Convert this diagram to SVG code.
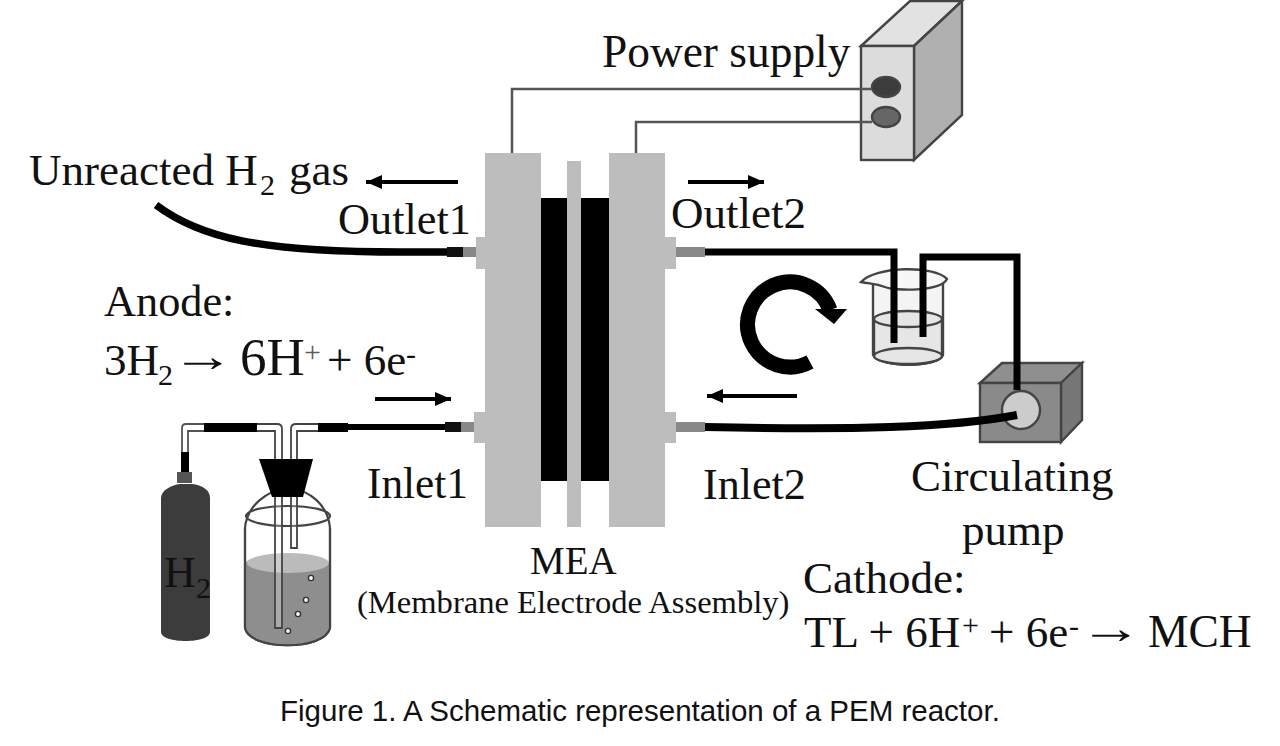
<svg xmlns="http://www.w3.org/2000/svg" width="1280" height="746" viewBox="0 0 1280 746">
<defs>
<marker id="ah" markerUnits="userSpaceOnUse" markerWidth="18" markerHeight="15" refX="16" refY="7" orient="auto"><path d="M0,0 L16,7 L0,14 L0,0 Z" fill="#000"/></marker>
</defs>
<style>
.s{font-family:"Liberation Serif","Times New Roman",serif;fill:#111}
.sub{font-size:30px}
.sup{font-size:30px}
.tube{fill:none;stroke:#000;stroke-width:7}
.thin{fill:none;stroke:#555;stroke-width:2.5}
.flow{fill:none;stroke:#000;stroke-width:4;marker-end:url(#ah)}
.g{fill:#bdbdbd}
.m{fill:#888}
.e{stroke:#444;stroke-width:2.4}
</style>
<rect width="1280" height="746" fill="#fff"/>
<g id="power-supply">
<path class="e" d="M861,46 L910,1 H962 L914,46 Z" fill="#e2e2e2"/>
<path class="e" d="M914,46 L962,1 V115 L914,160 Z" fill="#b0b0b0"/>
<rect class="e" x="861" y="46" width="53" height="114" fill="#dcdcdc"/>
<ellipse class="e" cx="886" cy="87" rx="14" ry="10" fill="#3c3c3c"/>
<ellipse class="e" cx="886" cy="117" rx="14" ry="10" fill="#666"/>
</g>
<g id="beaker">
<path class="e" d="M873,285 V355 C880,368 938,368 943,355 V280" fill="#f4f4f4"/>
<path class="e" d="M874,319 V355 C880,368 938,368 942,355 V319 Z" fill="#e6e6e6"/>
<ellipse class="e" cx="908" cy="319" rx="34" ry="8" fill="#e6e6e6"/>
<ellipse class="e" cx="908" cy="356" rx="34" ry="8" fill="#e6e6e6"/>
<path class="e" d="M861,282 C875,266 935,265 947,279 C940,292 895,291 885,287 C875,283 870,284 861,282 Z" fill="#f7f7f7"/>
</g>
<g id="pump">
<path class="e" d="M980,383 L1002,363 H1082 L1061,383 Z" fill="#8f8f8f"/>
<path class="e" d="M1061,383 L1082,363 V420 L1061,442 Z" fill="#777"/>
<rect class="e" x="980" y="383" width="81" height="59" fill="#8a8a8a"/>
<circle class="e" cx="1021" cy="410" r="19" fill="#ccc"/>
</g>
<g id="connectors">
<path class="thin" d="M512,153 V89 H872"/>
<path class="thin" d="M636,153 V122 H872"/>
<path d="M156,205 C200,238 260,252 400,252 H450" fill="none" stroke="#000" stroke-width="7.5"/>
<rect x="447" y="247" width="17" height="10" fill="#111"/>
<rect class="m" x="463" y="247" width="13" height="10"/>
<path class="tube" d="M705,252 H894 V343"/>
<path class="tube" d="M923,337 V257 H1017 V390"/>
<path d="M705,427 C850,430 950,428 1017,415" fill="none" stroke="#000" stroke-width="8"/>
<rect class="m" x="676" y="247" width="29" height="10"/>
<rect class="m" x="676" y="422" width="29" height="10"/>
<path d="M346,427 H450" stroke="#000" stroke-width="6" fill="none"/>
<rect x="445" y="422" width="16" height="10" fill="#111"/>
<rect class="m" x="461" y="422" width="13" height="10"/>
<path class="flow" d="M458,182 H366"/>
<path class="flow" d="M688,182 H764"/>
<path class="flow" d="M375,399 H451"/>
<path class="flow" d="M797,396 H707"/>
</g>
<g id="reactor">
<rect class="g" x="476" y="237" width="10" height="32"/>
<rect class="g" x="474" y="412" width="12" height="31"/>
<rect class="g" x="664" y="237" width="12" height="32"/>
<rect class="g" x="664" y="412" width="12" height="31"/>
<rect class="g" x="485" y="153" width="56" height="374"/>
<rect class="g" x="609" y="153" width="56" height="374"/>
<rect x="541" y="198" width="27" height="283" fill="#000"/>
<rect x="580" y="198" width="29" height="283" fill="#000"/>
<rect class="g" x="567" y="161" width="14" height="366"/>
</g>
<g id="rotation-arrow">
<path d="M810,362 A42.5,42.5 0 1 1 830,310" fill="none" stroke="#000" stroke-width="15"/>
<path d="M815,309 H847 L834,324 Z" fill="#000"/>
</g>
<g id="cylinder">
<path d="M161,498 C161,490 172,485 180,484 H192 C202,485 210,490 210,498 V632 C210,644 161,644 161,632 Z" fill="#3c3c3c"/>
<rect x="177" y="472" width="15" height="11" fill="#555"/>
<path d="M182,452 V428 Q182,424 186,424 H204 M188,452 V431 H204" fill="none" stroke="#555" stroke-width="1.8"/>
<rect x="181" y="452" width="8" height="20" fill="#000"/>
</g>
<g id="bubbler">
<path d="M245,528 C247,505 268,490 288,488 C310,490 328,505 330,528 V628 C325,651 250,651 245,628 Z" fill="#fff" stroke="#444" stroke-width="2.2"/>
<path d="M246,563 C246,553 329,553 329,563 V628 C325,650 250,650 246,628 Z" fill="#8e8e8e"/>
<ellipse cx="288" cy="563" rx="41" ry="10" fill="#bbb"/>
<ellipse cx="288" cy="516" rx="42" ry="10" fill="none" stroke="#444" stroke-width="2.2"/>
<path d="M245,528 V628 C250,651 325,651 330,628 V528" fill="none" stroke="#444" stroke-width="2.2"/>
<path d="M204,424 H277 Q282,424 282,429 V628 H275 V431 H204" fill="#fff" fill-opacity=".25" stroke="#444" stroke-width="1.8"/>
<path d="M319,424 H296 Q291,424 291,429 V548 H297 V431 H319" fill="#fff" fill-opacity=".25" stroke="#444" stroke-width="1.8"/>
<path d="M259,459 H313 L303,497 H272 Z" fill="#000"/>
<rect x="204" y="423" width="53" height="9" fill="#000"/>
<rect x="318" y="423" width="30" height="9" fill="#000"/>
<circle cx="311" cy="578" r="2.6" fill="#fff" stroke="#333" stroke-width="1.4"/>
<circle cx="306" cy="600" r="2.6" fill="#fff" stroke="#333" stroke-width="1.4"/>
<circle cx="298" cy="614" r="2.6" fill="#fff" stroke="#333" stroke-width="1.4"/>
<circle cx="288" cy="631" r="2.6" fill="#fff" stroke="#333" stroke-width="1.4"/>
</g>
<g id="labels">
<text class="s" x="164" y="587" font-size="44">H<tspan class="sub" x="196" y="598">2</tspan></text>
<text class="s" x="602" y="67" font-size="45.4">Power supply</text>
<text class="s" x="29" y="185" font-size="45">Unreacted H<tspan class="sub" x="260" y="195">2</tspan><tspan x="289" y="185">gas</tspan></text>
<text class="s" x="338" y="234" font-size="44.3">Outlet1</text>
<text class="s" x="671" y="228" font-size="45">Outlet2</text>
<text class="s" x="104" y="316" font-size="44.3">Anode:</text>
<text class="s" x="104" y="375" font-size="45">3H<tspan class="sub" x="158" y="385">2</tspan></text>
<text class="s" transform="translate(171.4,371) scale(1.4,1)" font-size="45">→</text>
<text class="s" x="240" y="375" font-size="53">6H</text>
<text class="s sup" x="304" y="362" fill-opacity=".7">+</text>
<text class="s" x="327" y="375" font-size="45">+ 6e</text>
<text class="s sup" x="406" y="364">-</text>
<text class="s" x="367" y="498" font-size="43.3">Inlet1</text>
<text class="s" x="703" y="499" font-size="44.1">Inlet2</text>
<text class="s" x="911" y="491" font-size="45">Circulating</text>
<text class="s" x="962" y="545" font-size="45">pump</text>
<text class="s" x="530" y="574" font-size="39">MEA</text>
<text class="s" x="357" y="613" font-size="32.6">(Membrane Electrode Assembly)</text>
<text class="s" x="803" y="593" font-size="45">Cathode:</text>
<text class="s" x="804" y="647" font-size="45">TL + 6H</text>
<text class="s sup" x="962" y="635">+</text>
<text class="s" x="989" y="647" font-size="45">+ 6e</text>
<text class="s sup" x="1069" y="636">-</text>
<text class="s" transform="translate(1079.4,642.6) scale(1.4,1)" font-size="45">→</text>
<text class="s" x="1148" y="647" font-size="45.5">MCH</text>
<text x="280" y="721" font-family="Liberation Sans, Arial, sans-serif" font-size="29.5" fill="#111">Figure 1. A Schematic representation of a PEM reactor.</text>
</g>
</svg>
